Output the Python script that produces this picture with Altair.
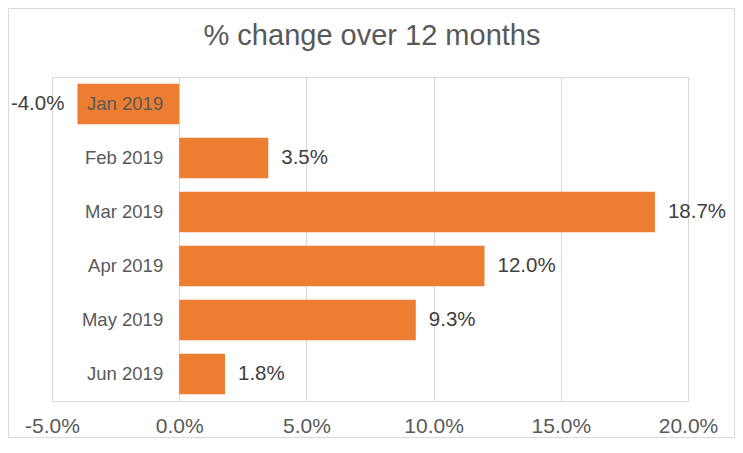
import altair as alt
import pandas as pd

title_text = "% change over 12 months"
categories = ["Jan 2019", "Feb 2019", "Mar 2019", "Apr 2019", "May 2019", "Jun 2019"]
values = [-4.0, 3.5, 18.7, 12.0, 9.3, 1.8]
tick_values = [-0.05, 0.0, 0.05, 0.10, 0.15, 0.20]

df = pd.DataFrame({"cat": categories, "val": values})
df["pct"] = df["val"] / 100.0
df["lbl"] = [f"{v:.1f}%" for v in values]
df["zero"] = 0.0

FONT = "Liberation Sans"
GRAY = "#595959"

W, H = 636, 324
PAD = {"left": 44, "top": 69, "right": 47, "bottom": 37}

x_scale = alt.Scale(domain=[-0.05, 0.20], nice=False, zero=False)
y_scale = alt.Scale(domain=categories, paddingInner=0.25, paddingOuter=0.125)

base = alt.Chart(df)

bars = base.mark_bar(color="#ED7D31").encode(
    x=alt.X("pct:Q", scale=x_scale,
            axis=alt.Axis(values=tick_values, format=".1%", title=None,
                          labelExpr="replace(datum.label, '\u2212', '-')",
                          grid=True, gridColor="#d9d9d9", domain=False, ticks=False,
                          labelFontSize=21, labelColor=GRAY, labelFont=FONT,
                          labelPadding=14, labelFlush=False)),
    x2=alt.X2("zero:Q"),
    y=alt.Y("cat:N", scale=y_scale, axis=None, sort=categories),
)

cat_labels = base.mark_text(align="right", baseline="middle", dx=-16,
                            fontSize=18.5, color=GRAY, font=FONT).encode(
    x=alt.X("zero:Q", scale=x_scale),
    y=alt.Y("cat:N", scale=y_scale, axis=None, sort=categories),
    text="cat:N",
)

pos_labels = base.transform_filter("datum.val >= 0").mark_text(
    align="left", baseline="middle", dx=13, fontSize=20.5, color="#404040", font=FONT).encode(
    x=alt.X("pct:Q", scale=x_scale),
    y=alt.Y("cat:N", scale=y_scale, axis=None, sort=categories),
    text="lbl:N",
)

neg_labels = base.transform_filter("datum.val < 0").mark_text(
    align="right", baseline="middle", dx=-13, fontSize=20.5, color="#404040", font=FONT).encode(
    x=alt.X("pct:Q", scale=x_scale),
    y=alt.Y("cat:N", scale=y_scale, axis=None, sort=categories),
    text="lbl:N",
)

total_w = W + PAD["left"] + PAD["right"]
total_h = H + PAD["top"] + PAD["bottom"]
border = alt.Chart(pd.DataFrame({"a": [0]})).mark_rect(
    fillOpacity=0, stroke="#d9d9d9", strokeWidth=1).encode(
    x=alt.value(-PAD["left"] + 0.5), x2=alt.value(total_w - PAD["left"] - 0.5),
    y=alt.value(-PAD["top"] + 0.5), y2=alt.value(total_h - PAD["top"] - 0.5),
)

title = alt.Chart(pd.DataFrame({"t": [title_text]})).mark_text(
    align="center", baseline="alphabetic", fontSize=29, color=GRAY, font=FONT).encode(
    x=alt.value(320), y=alt.value(-32), text="t:N",
)

chart = alt.layer(border, bars, cat_labels, pos_labels, neg_labels, title).properties(
    width=W,
    height=H,
    autosize=alt.AutoSizeParams(type="none"),
    padding=PAD,
).configure_view(stroke=None).configure(background="white")

chart.save("out.html", embed_options={"renderer": "svg", "actions": False})
